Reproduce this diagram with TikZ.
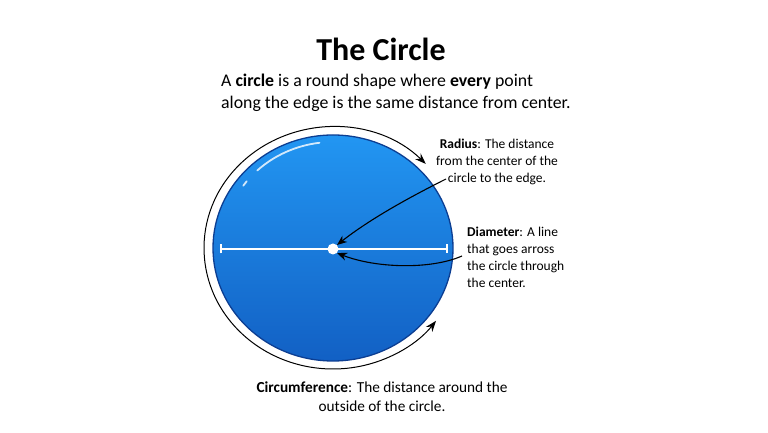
\documentclass[tikz,border=0pt]{standalone}
\usepackage{fontspec}
\setmainfont{Carlito}
\usetikzlibrary{arrows.meta}

\definecolor{discTop}{RGB}{34,150,242}
\definecolor{discBottom}{RGB}{18,96,196}
\definecolor{discEdge}{RGB}{12,62,146}

\tikzset{
    pointer/.style={-{Stealth[length=10pt,width=8pt]}, line width=1.1pt, black},
    blurb/.style={font=\fontsize{13.5}{17}\selectfont, inner sep=0pt},
}

\begin{document}
\begin{tikzpicture}[x=1pt,y=1pt]
        % Page frame, same proportions as the reference
        \useasboundingbox (0,0) rectangle (768,433);

        % The blue disc
        \shade[top color=discTop, bottom color=discBottom, draw=discEdge, line width=1.3pt]
            (333,185) ellipse [x radius=120, y radius=113];

        % Gloss on the upper left
        \draw[white, opacity=0.8, line width=1.8pt, line cap=round]
            (333,185) ++(97:111 and 106) arc [start angle=97, end angle=133, x radius=111, y radius=106];
        \draw[white, opacity=0.8, line width=1.8pt, line cap=round]
            (333,185) ++(141:111 and 106) arc [start angle=141, end angle=144, x radius=111, y radius=106];

        % Circumference: ring round the left side, arrows at both ends
        \draw[{Stealth[length=11pt,width=8pt]}-{Stealth[length=11pt,width=8pt]}, line width=1pt]
            (333,185) ++(44:129 and 121) arc [start angle=44, end angle=323, x radius=129, y radius=121];

        % Diameter line with end bars
        \coordinate (dleft) at (220,184);
        \coordinate (dright) at (448,184);
        \draw[white, line width=1.6pt, {Bar[width=9pt]}-{Bar[width=9pt]}] (dleft) -- (dright);

        % Center point
        \node[fill=white, circle, inner sep=0pt, minimum size=11pt] (center) at (333,184) {};

        % Title and intro
        \node[font=\fontsize{32}{34}\selectfont\bfseries] (title) at (381,384) {The Circle};
        \node[font=\fontsize{17.8}{22}\selectfont, align=left, inner sep=0pt, anchor=west] (intro) at (221,340)
            {A \textbf{circle} is a round shape where \textbf{every} point\\
             along the edge is the same distance from center.};

        % Labels
        \node[blurb, align=center] (radius) at (497,271)
            {\textbf{Radius}: The distance\\ from the center of the\\ circle to the edge.};
        \node[blurb, align=left, anchor=west] (diameter) at (467,176)
            {\textbf{Diameter}: A line\\ that goes arross\\ the circle through\\ the center.};
        \node[blurb, font=\fontsize{15.3}{19}\selectfont, align=center] (circumference) at (382,36)
            {\textbf{Circumference}: The distance around the\\ outside of the circle.};

        % Pointers to the center
        \coordinate (radtail) at (446,254);
        \coordinate (diatail) at (462,177);
        \draw[pointer] (radtail) .. controls (410,236) and (370,214) .. (center.north east);
        \draw[pointer] (diatail) .. controls (430,163) and (375,165) .. (center.south east);
\end{tikzpicture}
\end{document}
